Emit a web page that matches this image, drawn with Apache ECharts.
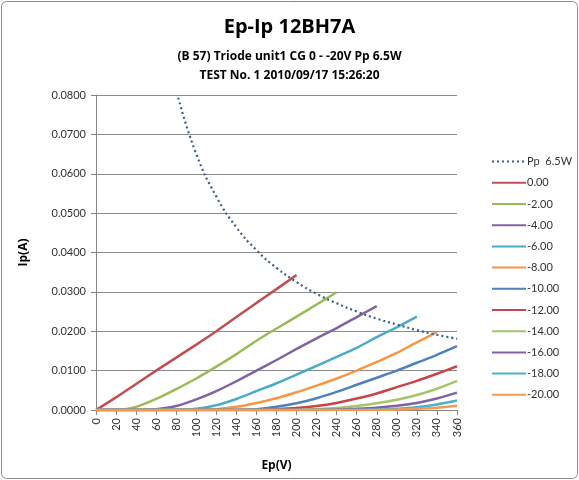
<!DOCTYPE html>
<html><head><meta charset="utf-8">
<script src="https://cdn.jsdelivr.net/npm/echarts@6/dist/echarts.min.js"></script>
<style>html,body{margin:0;padding:0;background:#fff}#c{width:579px;height:480px}</style>
</head><body><div id="c"></div>
<script>
var ep = [0,20,40,60,80,100,120,140,160,180,200,220,240,260,280,300,320,340,360];
var ppEp = [82,100,120,140,160,180,200,220,240,260,280,300,320,340,360];
var ppIp = [0.0793,0.0650,0.0542,0.0464,0.0406,0.0361,0.0325,0.0295,0.0271,0.0250,0.0232,0.0217,0.0203,0.0191,0.0181];
var g0   = [0,0.0032,0.0066,0.0100,0.0133,0.0166,0.0200,0.0236,0.0272,0.0307,0.0343];
var g2   = [0,0,0.0008,0.0028,0.0053,0.0080,0.0110,0.0142,0.0176,0.0207,0.0237,0.0268,0.0299];
var g4   = [0,0,0,0.0002,0.0010,0.0027,0.0048,0.0073,0.0100,0.0127,0.0155,0.0182,0.0208,0.0236,0.0264];
var g6   = [0,0,0,0,0,0.0003,0.0012,0.0028,0.0048,0.0068,0.0090,0.0112,0.0135,0.0158,0.0185,0.0210,0.0237];
var g8   = [0,0,0,0,0,0,0.0002,0.0008,0.0018,0.0030,0.0045,0.0062,0.0080,0.0100,0.0122,0.0145,0.0172,0.0198];
var g10  = [0,0,0,0,0,0,0,0,0.0002,0.0008,0.0017,0.0030,0.0046,0.0064,0.0082,0.0100,0.0120,0.0140,0.0162];
var g12  = [0,0,0,0,0,0,0,0,0,0.0002,0.0005,0.0010,0.0018,0.0029,0.0042,0.0058,0.0074,0.0092,0.0111];
var g14  = [0,0,0,0,0,0,0,0,0,0,0,0.0002,0.0005,0.0010,0.0017,0.0026,0.0038,0.0054,0.0074];
var g16  = [0,0,0,0,0,0,0,0,0,0,0,0,0.0001,0.0003,0.0006,0.0011,0.0018,0.0029,0.0044];
var g18  = [0,0,0,0,0,0,0,0,0,0,0,0,0,0,0.0001,0.0003,0.0007,0.0014,0.0024];
var g20  = [0,0,0,0,0,0,0,0,0,0,0,0,0,0,0,0.0001,0.0003,0.0006,0.0011];
var names = ['0.00','-2.00','-4.00','-6.00','-8.00','-10.00','-12.00','-14.00','-16.00','-18.00','-20.00'];
var curves = [g0,g2,g4,g6,g8,g10,g12,g14,g16,g18,g20];
var colors = ['#C0504D','#9BBB59','#8064A2','#4BACC6','#F79646','#4F81BD','#C8444A','#A6C46A','#7E62A8','#4BB2CA','#F49A50'];

function pairs(xs, ys){ var out=[]; for(var i=0;i<ys.length;i++){ out.push([xs[i], ys[i]]); } return out; }

var series = [{
  name:'Pp  6.5W', type:'line', data: pairs(ppEp, ppIp), symbol:'none', smooth:true,
  lineStyle:{color:'#3b5f86', width:2.2, type:[2,3]}, itemStyle:{color:'#3b5f86'}, z:3
}];
for (var k=0;k<curves.length;k++){
  series.push({name:names[k], type:'line', data: pairs(ep, curves[k]), symbol:'none', smooth:0.25,
    lineStyle:{color:colors[k], width:2.5}, itemStyle:{color:colors[k]}, z:2});
}

var chart = echarts.init(document.getElementById('c'));
chart.setOption({
  animation:false,
  backgroundColor:'#fff',
  textStyle:{fontFamily:'Lato, "Liberation Sans", sans-serif'},
  graphic:[{type:'rect', shape:{x:1.5,y:1.5,width:576,height:477,r:5}, style:{fill:'none', stroke:'#8c8c8c', lineWidth:1}}],
  title:[
    {text:'Ep-Ip 12BH7A', left:'center', top:12, textStyle:{fontSize:20, fontWeight:'bold', color:'#000', fontFamily:'"Open Sans", sans-serif'}},
    {text:'(B 57) Triode unit1 CG 0 - -20V Pp 6.5W', left:'center', top:46, textStyle:{fontSize:12, fontWeight:'bold', color:'#000', fontFamily:'"Open Sans", sans-serif'}},
    {text:'TEST No. 1 2010/09/17 15:26:20', left:'center', top:65, textStyle:{fontSize:12, fontWeight:'bold', color:'#000', fontFamily:'"Open Sans", sans-serif'}}
  ],
  legend:{orient:'vertical', left:486, top:151, itemWidth:34, itemHeight:14, itemGap:10,
    itemStyle:{opacity:0},
    textStyle:{fontSize:11, color:'#333', padding:[0,0,0,-4]}, data:series.map(function(s){return s.name;})},
  grid:{left:96, right:122, top:95, bottom:70},
  xAxis:{type:'value', min:0, max:360, interval:20, name:'Ep(V)', nameLocation:'middle', nameGap:50,
    nameTextStyle:{fontSize:12, fontWeight:'bold', color:'#000', fontFamily:'"Open Sans", sans-serif'},
    axisLine:{lineStyle:{color:'#868686'}}, axisTick:{show:true, length:5, lineStyle:{color:'#868686'}},
    axisLabel:{rotate:90, fontSize:11, color:'#333', margin:8}, splitLine:{show:false}},
  yAxis:{type:'value', min:0, max:0.08, interval:0.01, name:'Ip(A)', nameLocation:'middle', nameGap:66,
    nameTextStyle:{fontSize:12, fontWeight:'bold', color:'#000', fontFamily:'"Open Sans", sans-serif'},
    axisLine:{show:true, lineStyle:{color:'#868686'}}, axisTick:{show:true, length:5, lineStyle:{color:'#868686'}},
    axisLabel:{fontSize:11, color:'#333', margin:10, formatter:function(v){return v.toFixed(4);}},
    splitLine:{lineStyle:{color:'#8c8c8c', width:1}}},
  series:series
});
</script></body></html>
